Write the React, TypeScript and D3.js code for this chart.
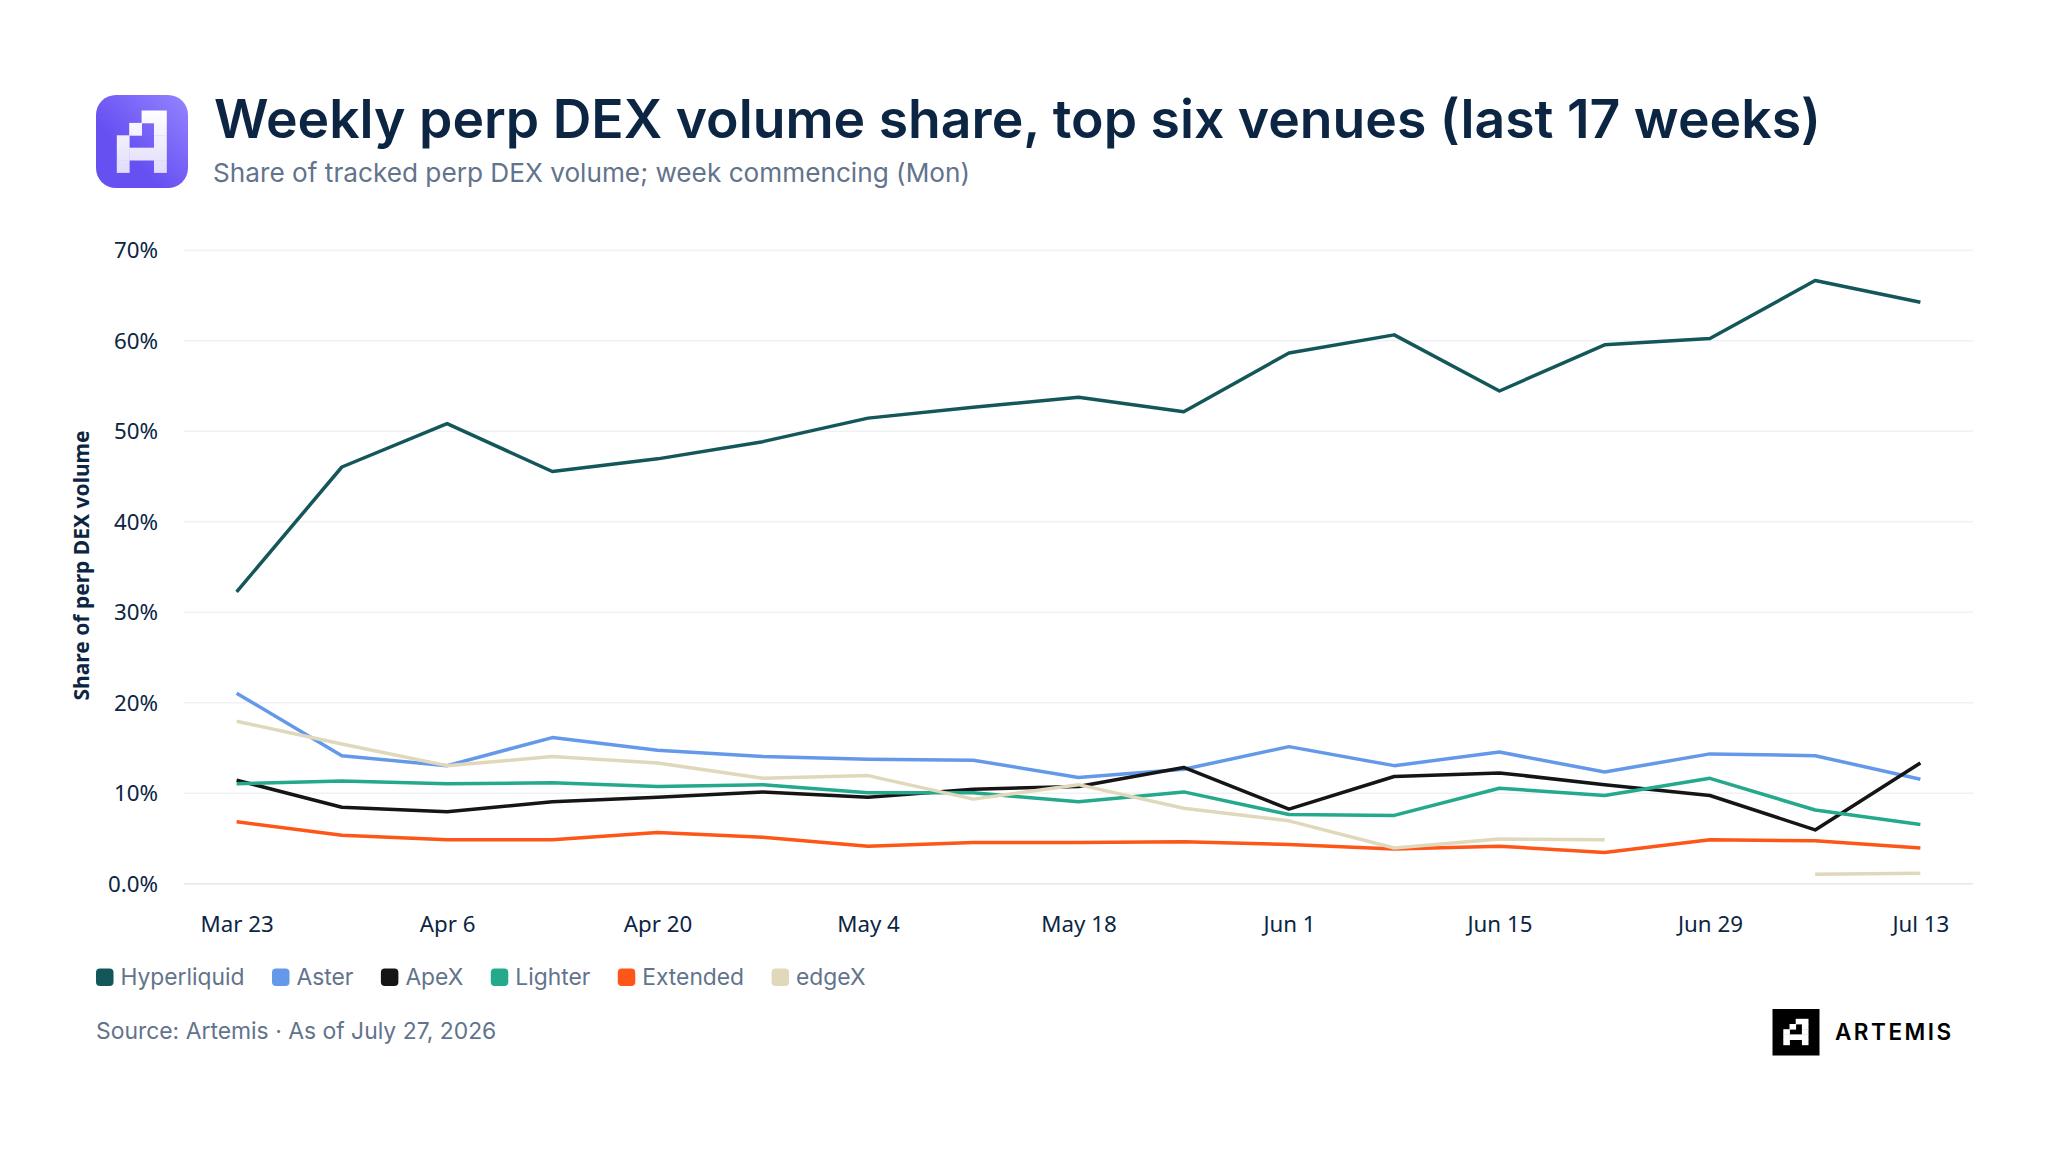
import { useEffect, useRef } from "react";
import * as d3 from "d3";

const weeks = ["Mar 23", "Mar 30", "Apr 6", "Apr 13", "Apr 20", "Apr 27", "May 4", "May 11", "May 18", "May 25", "Jun 1", "Jun 8", "Jun 15", "Jun 22", "Jun 29", "Jul 6", "Jul 13"];
const weekTicks = ["Mar 23", "Apr 6", "Apr 20", "May 4", "May 18", "Jun 1", "Jun 15", "Jun 29", "Jul 13"];
const yTicks = [0, 10, 20, 30, 40, 50, 60, 70];

const hyperliquid = [32.2, 46.0, 50.8, 45.5, 46.9, 48.8, 51.4, 52.6, 53.7, 52.1, 58.6, 60.6, 54.4, 59.5, 60.2, 66.6, 64.2];
const aster = [21.0, 14.1, 13.0, 16.1, 14.7, 14.0, 13.7, 13.6, 11.7, 12.6, 15.1, 13.0, 14.5, 12.3, 14.3, 14.1, 11.5];
const apex = [11.4, 8.4, 7.9, 9.0, 9.5, 10.1, 9.5, 10.4, 10.7, 12.8, 8.2, 11.8, 12.2, 10.9, 9.7, 5.9, 13.3];
const lighter = [11.0, 11.3, 11.0, 11.1, 10.7, 10.9, 10.0, 10.0, 9.0, 10.1, 7.6, 7.5, 10.5, 9.7, 11.6, 8.1, 6.5];
const extended = [6.8, 5.3, 4.8, 4.8, 5.6, 5.1, 4.1, 4.5, 4.5, 4.6, 4.3, 3.8, 4.1, 3.4, 4.8, 4.7, 3.9];
const edgex = [17.9, 15.4, 13.0, 14.0, 13.3, 11.6, 11.9, 9.3, 10.9, 8.3, 6.9, 3.9, 4.9, 4.8, null, 1.0, 1.1];

const seriesNames = ["Hyperliquid", "Aster", "ApeX", "Lighter", "Extended", "edgeX"];
const seriesValues = [hyperliquid, aster, apex, lighter, extended, edgex];
const seriesColors = ["#14575a", "#6499e9", "#151515", "#25a98c", "#fe5518", "#e0d8bb"];

// pixel "A" of the logo, 4 cols x 5 rows
const glyph = ["..##", ".#.#", "#..#", "####", "#..#"];

const NAVY = "#0b2543";
const SLATE = "#62738c";

function drawGlyph(g: d3.Selection<SVGGElement, unknown, null, undefined>, x: number, y: number, cw: number, ch: number, fill: string) {
    glyph.forEach((row, r) => {
        row.split("").forEach((c, i) => {
            if (c !== "#") return;
            g.append("rect")
                .attr("x", x + i * cw - 0.2)
                .attr("y", y + r * ch - 0.2)
                .attr("width", cw + 0.4)
                .attr("height", ch + 0.4)
                .attr("fill", fill);
        });
    });
}

export default function App() {
    const svgRef = useRef<SVGSVGElement>(null);

    useEffect(() => {
        const svg = d3.select(svgRef.current);
        svg.selectAll("*").remove();

        const x = d3.scalePoint<string>().domain(weeks).range([184, 1973]).padding(0.5);
        const y = d3.scaleLinear().domain([0, 70]).range([883.3, 249.8]);

        // Header
        const defs = svg.append("defs");
        const grad = defs.append("linearGradient").attr("id", "logoBg").attr("x1", 0).attr("y1", 1).attr("x2", 1).attr("y2", 0);
        grad.append("stop").attr("offset", "35%").attr("stop-color", "#6650f2");
        grad.append("stop").attr("offset", "100%").attr("stop-color", "#9484ff");
        const glyphGrad = defs.append("linearGradient").attr("id", "logoGlyph").attr("gradientUnits", "userSpaceOnUse")
            .attr("x1", 0).attr("y1", 110).attr("x2", 0).attr("y2", 173);
        glyphGrad.append("stop").attr("offset", "0%").attr("stop-color", "#ffffff");
        glyphGrad.append("stop").attr("offset", "100%").attr("stop-color", "#e0dbfa");

        const logo = svg.append("g");
        logo.append("rect").attr("x", 96).attr("y", 95).attr("width", 92).attr("height", 93).attr("rx", 20).attr("fill", "url(#logoBg)");
        drawGlyph(logo, 117, 110.7, 12.4, 12.4, "url(#logoGlyph)");

        svg.append("text").attr("x", 214).attr("y", 138).attr("font-family", "Inter").attr("font-weight", 600)
            .attr("font-size", 53.5).attr("fill", NAVY).text("Weekly perp DEX volume share, top six venues (last 17 weeks)");
        svg.append("text").attr("x", 213).attr("y", 182).attr("font-family", "Inter").attr("font-size", 26.2)
            .attr("fill", SLATE).text("Share of tracked perp DEX volume; week commencing (Mon)");

        // Grid and y axis
        const yAxis = svg.append("g").attr("transform", "translate(184,0)")
            .call(d3.axisLeft(y).tickValues(yTicks).tickSize(-1789).tickPadding(26).tickFormat(d => (+d === 0 ? "0.0%" : `${d}%`)));
        yAxis.select(".domain").remove();
        yAxis.selectAll(".tick line").attr("stroke", d => (d === 0 ? "#e4e7ec" : "#f0f1f4")).attr("stroke-width", 1.6);
        yAxis.selectAll("text").attr("font-family", "Noto Sans").attr("font-size", 22.3).attr("fill", NAVY).attr("dy", "0.36em");

        // X axis
        const xAxis = svg.append("g").attr("transform", "translate(0,883.3)")
            .call(d3.axisBottom(x).tickValues(weekTicks).tickSize(0).tickPadding(33));
        xAxis.select(".domain").remove();
        xAxis.selectAll("text").attr("font-family", "Noto Sans").attr("font-size", 22.3).attr("fill", NAVY);

        svg.append("text").attr("transform", "translate(89,565.5) rotate(-90)").attr("text-anchor", "middle")
            .attr("font-family", "Noto Sans").attr("font-weight", 700).attr("font-size", 21).attr("fill", NAVY)
            .text("Share of perp DEX volume");

        // Lines, edgeX has a missing week
        const line = d3.line<number | null>()
            .defined(d => d !== null)
            .x((_, i) => x(weeks[i]) as number)
            .y(d => y(d as number));
        seriesValues.forEach((values, i) => {
            svg.append("path").datum(values).attr("fill", "none").attr("stroke", seriesColors[i])
                .attr("stroke-width", 3.5).attr("stroke-linejoin", "round").attr("d", line);
        });

        // Legend, flows along the measured label widths
        let legendX = 96;
        seriesNames.forEach((name, i) => {
            svg.append("rect").attr("x", legendX).attr("y", 968.5).attr("width", 17.5).attr("height", 17.5).attr("rx", 4).attr("fill", seriesColors[i]);
            const label = svg.append("text").attr("x", legendX + 24.5).attr("y", 985).attr("font-family", "Inter")
                .attr("font-size", 22.8).attr("fill", SLATE).text(name);
            legendX += 24.5 + (label.node() as SVGTextElement).getComputedTextLength() + 27.5;
        });

        svg.append("text").attr("x", 96).attr("y", 1039).attr("font-family", "Inter").attr("font-size", 22.9)
            .attr("fill", SLATE).text("Source: Artemis · As of July 27, 2026");

        // Artemis mark
        const mark = svg.append("g");
        mark.append("rect").attr("x", 1772.5).attr("y", 1009).attr("width", 47).attr("height", 46.5).attr("fill", "#000");
        drawGlyph(mark, 1783.5, 1019, 6.2, 5.2, "#fff");
        svg.append("text").attr("x", 1835).attr("y", 1040).attr("font-family", "Inter").attr("font-weight", 600)
            .attr("font-size", 22.5).attr("letter-spacing", 2.5).attr("fill", "#000").text("ARTEMIS");
    }, []);

    return (
        <div style={{ position: "absolute", left: 0, top: 0, width: 2048, height: 1152, background: "#fff" }}>
            <svg ref={svgRef} width={2048} height={1152} style={{ display: "block" }} />
        </div>
    );
}
